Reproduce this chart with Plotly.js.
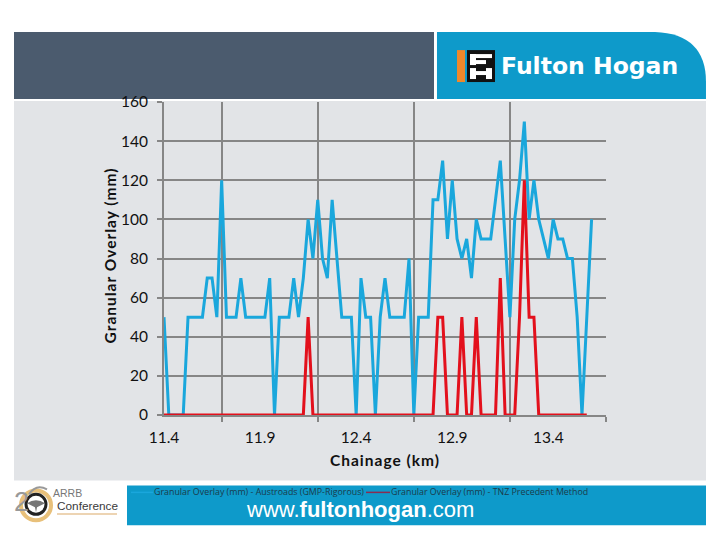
<!DOCTYPE html>
<html><head><meta charset="utf-8">
<script src="https://cdn.plot.ly/plotly-3.0.1.min.js"></script>
<style>html,body{margin:0;padding:0;background:#fff}#c{width:720px;height:540px}
.xtitle,.ytitle{letter-spacing:1px}</style></head>
<body><div id="c"></div>
<script>
const chainage0 = 11.4, chainageStep = 0.025;
const austroads = [50,0,0,0,0,50,50,50,50,70,70,50,120,50,50,50,70,50,50,50,50,50,70,0,50,50,50,70,50,70,
  100,80,110,80,70,110,80,50,50,50,0,70,50,50,0,50,70,50,50,50,50,80,0,50,50,50,110,110,130,90,
  120,90,80,90,70,100,90,90,90,110,130,90,50,100,120,150,100,120,100,90,80,100,90,90,80,80,50,0,50,100];
const tnz = [0,0,0,0,0,0,0,0,0,0,0,0,0,0,0,0,0,0,0,0,0,0,0,0,0,0,0,0,0,0,
  50,0,0,0,0,0,0,0,0,0,0,0,0,0,0,0,0,0,0,0,0,0,0,0,0,0,0,50,50,0,
  0,0,50,0,0,50,0,0,0,0,70,0,0,0,50,120,50,50,0,0,0,0,0,0,0,0,0,0,0];
const xTicks = [11.4,11.9,12.4,12.9,13.4];
const yTicks = [0,20,40,60,80,100,120,140,160];
const seriesNames = ['Granular Overlay (mm) - Austroads (GMP-Rigorous)','Granular Overlay (mm) - TNZ Precedent Method'];
const seriesColors = ['#1aa7dc','#e3101c'];
const xOf = a => a.map((_,i)=>+(chainage0+i*chainageStep).toFixed(3));

const L=164,R=606,T=102,B=415.5;
const px = x=>(x-L)/(R-L), py = y=>(B-y)/(B-T);
const rect=(x0,y0,x1,y1,fill)=>({type:'rect',xref:'paper',yref:'paper',x0:px(x0),x1:px(x1),y0:py(y0),y1:py(y1),fillcolor:fill,line:{width:0},layer:'below'});
const P=(s)=>s.replace(/(-?[\d.]+),(-?[\d.]+)/g,(m,a,b)=>px(+a).toFixed(4)+','+py(+b).toFixed(4));
const path=(d,fill,lc,lw)=>({type:'path',xref:'paper',yref:'paper',path:P(d),fillcolor:fill,line:{width:lw||0,color:lc||'rgba(0,0,0,0)'},layer:'below'});
const ring=(cx,cy,r,col,w,fill)=>({type:'circle',xref:'paper',yref:'paper',x0:px(cx-r),x1:px(cx+r),y0:py(cy-r),y1:py(cy+r),line:{color:col,width:w},fillcolor:fill||'rgba(0,0,0,0)',layer:'below'});
const seg=(x0,y,x1,col,w)=>({type:'line',xref:'paper',yref:'paper',x0:px(x0),x1:px(x1),y0:py(y),y1:py(y),line:{color:col,width:w},layer:'below'});
const txt=(x,y,text,size,color,family,anchor,bold)=>({xref:'paper',yref:'paper',x:px(x),y:py(y),text:bold?'<b>'+text+'</b>':text,showarrow:false,xanchor:anchor||'center',yanchor:'middle',font:{size,color,family},borderpad:0,borderwidth:0});

const shapes=[
  rect(14,101,706,481,'#e2e4e7'),
  rect(14,32,434,99,'#4b5b6e'),
  path('M437,32 L655,32 Q706,34 706,82 L706,99 L437,99 Z','#0e9aca'),
  rect(457,50,465,82,'#f0882a'),
  rect(467,50,495,82,'#111111'),
  rect(470,54,492,58,'#ffffff'), rect(470,54,476,65,'#ffffff'), rect(470,60,486,64,'#ffffff'),
  rect(470,68,476,79,'#ffffff'), rect(486,68,492,79,'#ffffff'), rect(470,71,492,75,'#ffffff'),
  rect(127,486,706,526,'#0e9aca'),
  seg(131,493,153,seriesColors[0],1.5),
  seg(366,493,390,'#8a2c50',1.5),
  ring(36,506,15,'#e8c07a',4),
  ring(36,505,10,'#222222',3,'#ffffff'),
  path('M27,504 Q36,498 45,504 L37,508 L36,513 L35,508 Z','#777777'),
  path('M29,495 Q36,484 47,490','rgba(0,0,0,0)','#999999',2),
  rect(57,514,117,515.5,'#e7c69a'),
];
const annotations=[
  txt(589,66,'Fulton Hogan',23.5,'#ffffff','"DejaVu Sans"','center',true),
  txt(360,510.5,'www.<b>fultonhogan</b>.com',22,'#ffffff','"Liberation Sans"','center',false),
  txt(57,506.5,'Conference',11.8,'#3a3a3a','"Liberation Sans"','left',false),
  txt(53,493.5,'ARRB',10.5,'#777777','"Liberation Sans"','left',false),
  txt(21,503,'2',27,'#999999','"Liberation Sans"','center',false),
  txt(154,492.5,seriesNames[0],8.85,'#1b3a4a','"Open Sans"','left',false),
  txt(391,492.5,seriesNames[1],8.85,'#1b3a4a','"Open Sans"','left',false),
];
const data=[
 {x:xOf(austroads),y:austroads,type:'scatter',mode:'lines',name:seriesNames[0],line:{color:seriesColors[0],width:3}},
 {x:xOf(tnz),y:tnz,type:'scatter',mode:'lines',name:seriesNames[1],line:{color:seriesColors[1],width:3}}
];
const tickFont={family:'Lato',size:15.5,color:'#111'};
const titleFont={family:'Lato',size:15.5,color:'#111'};
const layout={
 width:720,height:540,paper_bgcolor:'rgba(0,0,0,0)',plot_bgcolor:'rgba(0,0,0,0)',
 margin:{l:L,r:720-R,t:T,b:540-B,pad:0},showlegend:false,
 xaxis:{range:[11.4,13.7],tickmode:'array',tickvals:xTicks,ticktext:xTicks.map(v=>v.toFixed(1)),showgrid:false,zeroline:false,
   ticks:'',ticklen:0,ticklabelstandoff:7,tickfont:tickFont,
   showline:true,linecolor:'#868686',linewidth:2,
   minor:{tick0:11.7,dtick:0.5,showgrid:true,gridcolor:'#868686',gridwidth:2,ticks:'outside',ticklen:5,tickcolor:'#868686',tickwidth:2},
   title:{text:'<b>Chainage (km)</b>',font:titleFont,standoff:11}},
 yaxis:{range:[0,160],tickmode:'array',tickvals:yTicks,showgrid:true,gridcolor:'#868686',gridwidth:2,zeroline:false,
   ticks:'outside',ticklen:5,tickcolor:'#868686',tickwidth:2,ticklabelstandoff:6,
   tickfont:tickFont,showline:true,linecolor:'#868686',linewidth:2,
   title:{text:'<b>Granular Overlay (mm)</b>',font:titleFont,standoff:0}},
 shapes,annotations
};
Plotly.newPlot('c',data,layout,{displayModeBar:false,staticPlot:true}).then(()=>{
  const t=document.querySelector('.ytitle');
  if(t) t.setAttribute('transform','translate(0,-3) '+(t.getAttribute('transform')||''));
});
</script></body></html>
